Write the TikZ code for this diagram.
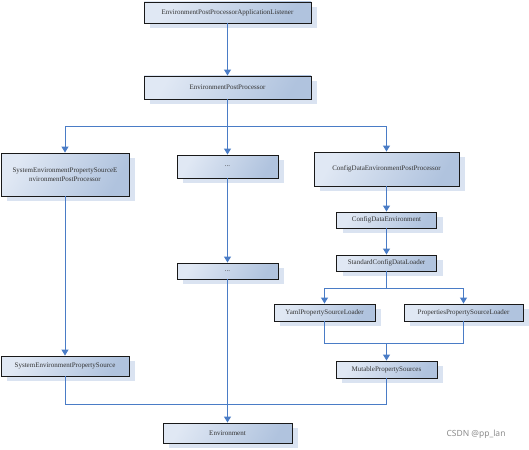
\documentclass[tikz,border=0pt]{standalone}
\usepackage{fontspec}
\setmainfont{Liberation Serif}
\newfontfamily\wmfont{Noto Sans}
\usetikzlibrary{arrows.meta,shadows}
\definecolor{boxlight}{HTML}{E0E8F4}
\definecolor{boxdark}{HTML}{B0C3DE}
\definecolor{shadowc}{HTML}{DAE3F1}
\definecolor{linec}{HTML}{4A7CC6}
\tikzset{
  cls/.style={draw=black!90, line width=0.9pt, inner sep=1pt,
    shading=axis, left color=boxlight, right color=boxdark, shading angle=60,
    general shadow={shadow xshift=6pt, shadow yshift=-5pt, fill=shadowc},
    font=\fontsize{7}{8.5}\selectfont, text=black!80, align=center},
  conn/.style={draw=linec, line width=1pt},
  arr/.style={conn, -{Triangle[width=7pt,length=6pt]}}
}
\begin{document}
\begin{tikzpicture}[x=1pt,y=-1pt]
\useasboundingbox (0,0) rectangle (529,449);
\node[cls, minimum width=167pt, minimum height=21pt] (lis) at (227.5,12.5) {EnvironmentPostProcessorApplicationListener};
\node[cls, minimum width=167pt, minimum height=23pt] (epp) at (227.5,87.5) {EnvironmentPostProcessor};
\node[cls, minimum width=128pt, minimum height=43pt] (sepsepp) at (65,174.5) {SystemEnvironmentPropertySourceE\\nvironmentPostProcessor};
\node[cls, minimum width=101pt, minimum height=23pt] (d1) at (227.5,166.5) {...};
\node[cls, minimum width=145pt, minimum height=34pt] (cdepp) at (386.5,169) {ConfigDataEnvironmentPostProcessor};
\node[cls, minimum width=100pt, minimum height=16pt] (cde) at (386.5,220) {ConfigDataEnvironment};
\node[cls, minimum width=100pt, minimum height=16pt] (scdl) at (386.5,263) {StandardConfigDataLoader};
\node[cls, minimum width=101pt, minimum height=17pt] (yaml) at (324.5,312.5) {YamlPropertySourceLoader};
\node[cls, minimum width=119pt, minimum height=17pt] (props) at (463.5,312.5) {PropertiesPropertySourceLoader};
\node[cls, minimum width=101pt, minimum height=17pt] (mps) at (386.5,369.5) {MutablePropertySources};
\node[cls, minimum width=101pt, minimum height=16pt] (d2) at (227.5,271) {...};
\node[cls, minimum width=128pt, minimum height=20pt] (seps) at (65,366) {SystemEnvironmentPropertySource};
\node[cls, minimum width=129pt, minimum height=20pt] (env) at (227.5,433) {Environment};
\node[text=black!45, font=\wmfont\fontsize{8.5}{10}\selectfont, inner sep=0pt] (wm) at (476,434) {CSDN @pp\_lan};

\coordinate (s1) at (227.5,127);
\coordinate (s2) at (386.5,288);
\coordinate (s3) at (386.5,343);
\coordinate (s4) at (227.5,404);

\draw[arr] (lis) -- (epp);
\draw[conn] (epp) -- (s1);
\draw[arr] (s1) -| (sepsepp.north);
\draw[arr] (s1) -- (d1);
\draw[arr] (s1) -| (cdepp.north);
\draw[arr] (sepsepp) -- (seps);
\draw[arr] (d1) -- (d2);
\draw[arr] (d2) -- (env);
\draw[arr] (cdepp) -- (cde);
\draw[arr] (cde) -- (scdl);
\draw[conn] (scdl) -- (s2);
\draw[arr] (s2) -| (yaml.north);
\draw[arr] (s2) -| (props.north);
\draw[conn] (yaml) |- (s3);
\draw[conn] (props) |- (s3);
\draw[arr] (s3) -- (mps);
\draw[conn] (seps) |- (s4);
\draw[conn] (mps) |- (s4);
\end{tikzpicture}
\end{document}
